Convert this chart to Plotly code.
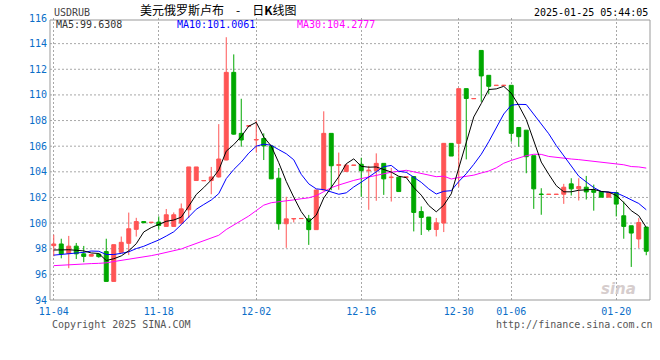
import plotly.graph_objects as go
import pandas as pd

# ---- categories (trading days shown on the chart) ----
DATES = [d.strftime("%Y-%m-%d") for d in pd.date_range("2024-11-04", "2025-01-24", freq="D")
         if d.strftime("%Y-%m-%d") not in ("2024-11-28", "2024-12-25")]

# ---- OHLC values ----
OPEN = [98.24, 98.37, 97.62, 98.2, 97.6, 97.42, 97.58, 97.78, 95.45, 97.72,
        98.42, 99.51, 100.12, 100.03, 100.08, 99.74, 99.74, 100.0, 101.04, 103.32,
        103.3, 103.32, 103.6, 104.92, 111.76, 107.0, 107.55, 106.48, 106.6, 106.02,
        103.5, 99.95, 100.33, 100.35, 100.33, 99.49, 102.58, 107.0, 104.5, 104.02,
        104.5, 104.59, 104.08, 104.09, 104.66, 103.55, 103.58, 103.58, 103.63, 100.9,
        100.47, 99.5, 100.0, 106.22, 106.22, 110.49, 109.7, 113.47, 111.53, 110.73,
        110.73, 110.75, 107.46, 107.25, 105.26, 102.27, 102.23, 102.23, 102.25, 103.06,
        102.67, 102.8, 102.56, 102.46, 102.02, 102.38, 100.57, 99.79, 98.76, 99.69]
HIGH = [99.09, 98.78, 99.0, 98.45, 98.22, 97.58, 97.65, 98.78, 98.32, 98.95,
        100.82, 100.41, 100.12, 100.06, 100.52, 101.1, 100.83, 101.53, 104.38, 104.38,
        103.32, 104.38, 107.72, 114.5, 113.16, 109.7, 107.6, 108.0, 107.0, 106.02,
        104.3, 102.05, 100.35, 100.36, 100.64, 102.6, 108.72, 107.0, 105.5, 104.6,
        104.52, 105.1, 104.46, 105.44, 104.66, 104.3, 103.6, 103.6, 103.63, 101.3,
        100.47, 100.4, 106.25, 106.22, 110.5, 110.5, 109.72, 113.47, 111.53, 110.75,
        110.75, 110.75, 107.46, 107.25, 105.26, 102.72, 102.25, 102.25, 103.06, 103.5,
        103.5, 103.68, 103.0, 102.46, 102.4, 102.4, 101.68, 99.79, 100.39, 99.69]
LOW = [97.41, 97.25, 96.48, 97.2, 96.95, 97.4, 97.3, 95.45, 95.45, 97.7,
       97.5, 98.95, 100.03, 100.03, 99.48, 99.72, 99.72, 99.87, 100.39, 103.32,
       103.3, 102.25, 103.55, 104.9, 106.9, 105.96, 107.55, 105.5, 104.92, 103.45,
       99.48, 98.07, 100.05, 100.35, 98.3, 99.49, 102.55, 102.57, 102.6, 104.0,
       104.5, 102.05, 101.04, 101.74, 102.2, 101.68, 102.46, 103.58, 99.35, 99.07,
       99.35, 98.96, 99.3, 105.23, 102.85, 104.97, 109.7, 109.46, 110.05, 110.73,
       110.73, 106.35, 105.96, 103.89, 101.11, 100.65, 102.23, 102.23, 101.5, 102.15,
       101.76, 101.84, 100.97, 102.02, 102.02, 100.52, 98.78, 96.58, 98.06, 97.49]
CLOSE = [98.37, 97.59, 98.2, 97.6, 97.4, 97.55, 97.38, 95.45, 98.32, 98.5,
         99.56, 100.12, 100.03, 100.06, 99.82, 100.65, 100.65, 101.11, 104.38, 104.38,
         103.32, 103.6, 105.0, 111.76, 106.94, 106.48, 107.6, 106.52, 106.02, 103.45,
         99.95, 100.33, 100.35, 100.36, 99.49, 102.58, 107.0, 104.47, 104.56, 104.52,
         104.52, 104.09, 104.12, 104.66, 103.45, 103.58, 102.46, 103.6, 100.83, 100.44,
         99.5, 100.02, 106.22, 105.23, 110.49, 109.72, 109.72, 111.48, 110.67, 110.75,
         110.75, 107.0, 106.74, 105.18, 102.67, 102.23, 102.25, 102.25, 102.8, 102.67,
         102.85, 102.43, 102.4, 102.02, 102.4, 101.48, 99.74, 99.22, 100.05, 97.8]

# ---- moving-average lines as they appear on the picture ----
MA5 = [97.9, 97.92, 97.92, 97.88, 97.83, 97.67, 97.63, 97.08, 97.22, 97.44,
       97.84, 98.39, 99.31, 99.65, 99.92, 100.14, 100.24, 100.46, 101.32, 102.23,
       102.77, 103.36, 104.14, 105.61, 106.12, 106.76, 107.56, 107.86, 106.71, 106.01,
       104.71, 103.25, 102.02, 100.89, 100.1, 100.62, 101.96, 102.78, 103.62, 104.63,
       105.01, 104.43, 104.36, 104.38, 104.17, 103.98, 103.65, 103.55, 102.78, 102.18,
       101.37, 100.88, 101.4, 102.28, 104.29, 106.34, 108.28, 109.33, 110.42, 110.47,
       110.67, 110.13, 109.18, 108.08, 106.47, 104.76, 103.81, 102.92, 102.44, 102.44,
       102.56, 102.6, 102.63, 102.47, 102.42, 102.15, 101.61, 100.97, 100.58, 99.66]
MA10 = [97.5, 97.55, 97.62, 97.68, 97.72, 97.82, 97.8, 97.55, 97.55, 97.64,
        97.76, 98.01, 98.19, 98.44, 98.68, 98.99, 99.32, 99.88, 100.49, 101.08,
        101.45, 101.8, 102.3, 103.47, 104.18, 104.76, 105.46, 106.0, 106.16, 106.07,
        105.73, 105.41, 104.94, 103.8, 103.06, 102.67, 102.61, 102.4, 102.25, 102.36,
        102.82, 103.19, 103.57, 104.0, 104.4, 104.5, 104.04, 103.96, 103.58, 103.18,
        102.67, 102.27, 102.48, 102.53, 103.24, 103.85, 104.58, 105.37, 106.35, 107.38,
        108.51, 109.2, 109.26, 109.25, 108.47, 107.72, 106.97, 106.05, 105.26, 104.45,
        103.66, 103.21, 102.77, 102.46, 102.43, 102.36, 102.1, 101.8, 101.53, 101.04]
MA30 = [96.68, 96.72, 96.76, 96.8, 96.82, 96.84, 96.86, 96.9, 97.0, 97.08,
        97.16, 97.26, 97.36, 97.46, 97.58, 97.7, 97.82, 97.98, 98.2, 98.42,
        98.62, 98.82, 99.05, 99.5, 99.88, 100.2, 100.55, 100.95, 101.4, 101.59,
        101.65, 101.74, 101.81, 101.9, 101.97, 102.14, 102.46, 102.76, 102.97, 103.17,
        103.33, 103.47, 103.6, 103.76, 103.88, 103.97, 104.04, 104.12, 104.0, 103.87,
        103.74, 103.62, 103.66, 103.44, 103.56, 103.67, 103.74, 103.91, 104.06, 104.31,
        104.67, 104.89, 105.1, 105.26, 105.37, 105.36, 105.2, 105.12, 105.06, 105.0,
        104.95, 104.89, 104.83, 104.75, 104.71, 104.64, 104.55, 104.41, 104.38, 104.29]

Y_TICKS = [94, 96, 98, 100, 102, 104, 106, 108, 110, 112, 114, 116]
TICK_DATES = ["2024-11-04", "2024-11-18", "2024-12-02", "2024-12-16",
              "2024-12-30", "2025-01-06", "2025-01-20"]
TICK_TEXT = ["11-04", "11-18", "12-02", "12-16", "12-30", "01-06", "01-20"]

SYMBOL = "USDRUB"
TITLE = "美元俄罗斯卢布\u3000-\u3000日<b>K</b>线图"
STAMP = "2025-01-25 05:44:05"
LEG = [("MA5:99.6308", "#333333"), ("MA10:101.0061", "#0000FF"), ("MA30:104.2777", "#FF00FF")]

RED = "#FF5555"
GREEN = "#00A800"
BLUE_TXT = "#0A6EC8"
MONO = "DejaVu Sans Mono, monospace"

W, H = 660, 360
L, R, T, B = 50, 10, 18, 60
PW, PH = W - L - R, H - T - B


def px(x):
    return (x - L) / PW


def py(y):
    return (H - B - y) / PH


fig = go.Figure()
fig.add_trace(go.Candlestick(
    x=DATES, open=OPEN, high=HIGH, low=LOW, close=CLOSE,
    increasing=dict(line=dict(color=RED, width=1), fillcolor=RED),
    decreasing=dict(line=dict(color=GREEN, width=1), fillcolor=GREEN),
    whiskerwidth=0, hoverinfo="skip"))
for vals, col in ((MA30, "#FF00FF"), (MA10, "#0000FF"), (MA5, "#000000")):
    fig.add_trace(go.Scatter(x=DATES, y=vals, mode="lines",
                             line=dict(color=col, width=1), hoverinfo="skip"))

shapes = []
for v in Y_TICKS[1:-1]:
    shapes.append(dict(type="line", xref="paper", yref="y", x0=0, x1=1, y0=v, y1=v,
                       line=dict(color="#A8A8A8", width=1, dash="2px,2px"), layer="below"))
shapes.append(dict(type="rect", xref="paper", yref="paper", x0=0, x1=1, y0=0, y1=py(20),
                   line=dict(color="#999999", width=1), layer="above"))

ann = []
ann.append(dict(text=SYMBOL, x=px(52), y=py(12), xanchor="left", yanchor="middle",
                font=dict(family=MONO, size=10, color="#444444")))
ann.append(dict(text=TITLE, x=px(218), y=py(9), xanchor="center", yanchor="middle",
                font=dict(family="Noto Sans CJK SC", size=12, color="#000000")))
ann.append(dict(text=STAMP, x=px(650), y=py(12), xanchor="right", yanchor="middle",
                font=dict(family=MONO, size=10, color="#000000")))
for (txt, col), x0 in zip(LEG, (54, 175, 295)):
    ann.append(dict(text=txt, x=px(x0), y=py(25), xanchor="left", yanchor="middle",
                    font=dict(family=MONO, size=10, color=col)))
ann.append(dict(text="Copyright 2025 SINA.COM", x=px(50), y=py(324), xanchor="left",
                yanchor="middle", font=dict(family=MONO, size=10, color="#555555")))
ann.append(dict(text="http://finance.sina.com.cn", x=px(655), y=py(324), xanchor="right",
                yanchor="middle", font=dict(family=MONO, size=10, color="#555555")))
ann.append(dict(text="<b><i>sina</i></b>", x=px(618), y=py(289), xanchor="center",
                yanchor="middle", font=dict(family="DejaVu Sans", size=15, color="#D6CDCD")))
for a in ann:
    a.update(xref="paper", yref="paper", showarrow=False)

fig.update_layout(
    width=W, height=H, margin=dict(l=L, r=R, t=T, b=B),
    paper_bgcolor="white", plot_bgcolor="white", showlegend=False,
    boxgap=0.25, shapes=shapes, annotations=ann,
    xaxis=dict(type="category", range=[-0.5, len(DATES) - 0.5], tickvals=TICK_DATES,
               ticktext=TICK_TEXT, showgrid=True, gridcolor="#A8A8A8", griddash="2px,2px",
               gridwidth=1, zeroline=False, showline=False, ticks="", ticklabelstandoff=4,
               tickfont=dict(family=MONO, size=10, color=BLUE_TXT),
               rangeslider=dict(visible=False), fixedrange=True),
    yaxis=dict(range=[94, 116], tickvals=Y_TICKS, showgrid=False, zeroline=False,
               showline=False, ticks="", ticklabelstandoff=2,
               tickfont=dict(family=MONO, size=10, color=BLUE_TXT), fixedrange=True),
)
fig.write_html("out.html", config={"displayModeBar": False, "staticPlot": True},
               post_script="document.body.style.margin='0';document.body.style.overflow='hidden';")
